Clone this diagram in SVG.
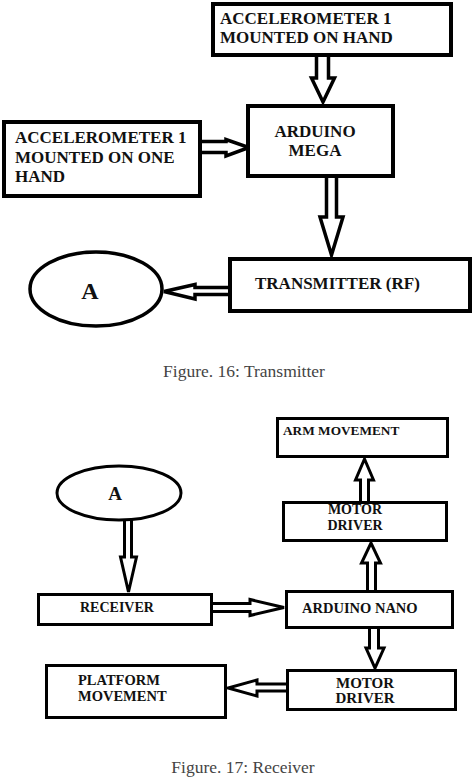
<svg xmlns="http://www.w3.org/2000/svg" width="474" height="779" viewBox="0 0 474 779">
<style>
.bg{fill:#fff}
.box{fill:#fff;stroke:#000;stroke-width:4}
.box2{fill:#fff;stroke:#000;stroke-width:3}
.arr{fill:#fff;stroke:#000;stroke-width:3.5;stroke-linejoin:miter}
.arr2{fill:#fff;stroke:#000;stroke-width:3;stroke-linejoin:miter}
.t{font-family:"Liberation Serif","Times New Roman",serif;font-weight:bold;fill:#111}
.big{font-size:17px}
.sm{font-size:14px}
.cap{font-family:"Liberation Serif","Times New Roman",serif;font-size:17.5px;fill:#444;text-anchor:middle}
</style>
<rect class="bg" x="0" y="0" width="474" height="779"/>
<g id="connectors">
<path class="arr" d="M316.5,57 V78 H311.5 L323,102 L334.5,78 H328.5 V57"/>
<path class="arr" d="M202,141.5 H226 V139.5 L249,147.5 L226,156 V152.5 H202"/>
<path class="arr" d="M326.5,178 V217 H320 L331.5,255 L343,217 H336.5 V178"/>
<path class="arr" d="M228,287.5 H195 V284.5 L164,291.5 L195,299 V294.5 H228"/>
<path class="arr2" d="M360.5,501 V480 H355.5 L364.5,459 L373.5,480 H368.5 V501"/>
<path class="arr2" d="M367.5,590 V563 H361.5 L371,543 L380.5,563 H375.5 V590"/>
<path class="arr2" d="M124.5,520 V557 H120.5 L128.5,592 L136.5,557 H131.5 V520"/>
<path class="arr2" d="M213,603.5 H250 V599.5 L284,607.5 L250,615.5 V611.5 H213"/>
<path class="arr2" d="M369.5,629 V648 H366 L375,668 L384,648 H378.5 V629"/>
<path class="arr2" d="M286,684 H257 V680 L228,688 L257,696 V691 H286"/>
</g>
<g id="acc_top">
<rect class="box" x="213" y="4" width="238" height="51"/>
<text class="t big" x="220" y="24">ACCELEROMETER 1</text>
<text class="t big" x="220" y="43">MOUNTED ON HAND</text>
</g>
<g id="acc_left">
<rect class="box" x="4" y="122" width="196" height="74"/>
<text class="t big" x="15" y="143">ACCELEROMETER 1</text>
<text class="t big" x="15" y="163">MOUNTED ON ONE</text>
<text class="t big" x="15" y="182">HAND</text>
</g>
<g id="arduino_mega">
<rect class="box" x="248" y="106" width="145" height="70"/>
<text class="t big" x="315" y="137" text-anchor="middle">ARDUINO</text>
<text class="t big" x="315" y="156" text-anchor="middle">MEGA</text>
</g>
<g id="transmitter">
<rect class="box" x="230" y="259" width="240" height="52"/>
<text class="t big" x="255" y="289">TRANSMITTER (RF)</text>
</g>
<g id="a_tx">
<ellipse class="box" cx="96" cy="289" rx="66" ry="37" style="stroke-width:3.5"/>
<text class="t" x="90" y="299" font-size="24" text-anchor="middle">A</text>
</g>
<text class="cap" x="244" y="377">Figure. 16: Transmitter</text>
<g id="arm_movement">
<rect class="box2" x="277.5" y="418.5" width="170" height="38"/>
<text class="t" x="283" y="435" font-size="13.3">ARM MOVEMENT</text>
</g>
<g id="motor_driver_1">
<rect class="box2" x="283.5" y="502.5" width="163" height="38"/>
<text class="t sm" x="355" y="514" text-anchor="middle">MOTOR</text>
<text class="t sm" x="355" y="530" text-anchor="middle">DRIVER</text>
</g>
<g id="a_rx">
<ellipse class="box2" cx="119" cy="493" rx="62" ry="27"/>
<text class="t" x="115" y="500" font-size="19" text-anchor="middle">A</text>
</g>
<g id="receiver">
<rect class="box2" x="38.5" y="594.5" width="173" height="30"/>
<text class="t sm" x="80" y="612">RECEIVER</text>
</g>
<g id="arduino_nano">
<rect class="box2" x="286.5" y="591.5" width="166" height="36"/>
<text class="t" x="302" y="613" font-size="14.5">ARDUINO NANO</text>
</g>
<g id="motor_driver_2">
<rect class="box2" x="287.5" y="670.5" width="168" height="39"/>
<text class="t" x="365" y="688" font-size="15" text-anchor="middle">MOTOR</text>
<text class="t" x="365" y="703" font-size="15" text-anchor="middle">DRIVER</text>
</g>
<g id="platform_movement">
<rect class="box2" x="46.5" y="665.5" width="179" height="52"/>
<text class="t" x="78" y="685" font-size="14.5">PLATFORM</text>
<text class="t" x="78" y="701" font-size="14.5">MOVEMENT</text>
</g>
<text class="cap" x="243" y="773">Figure. 17: Receiver</text>
</svg>
